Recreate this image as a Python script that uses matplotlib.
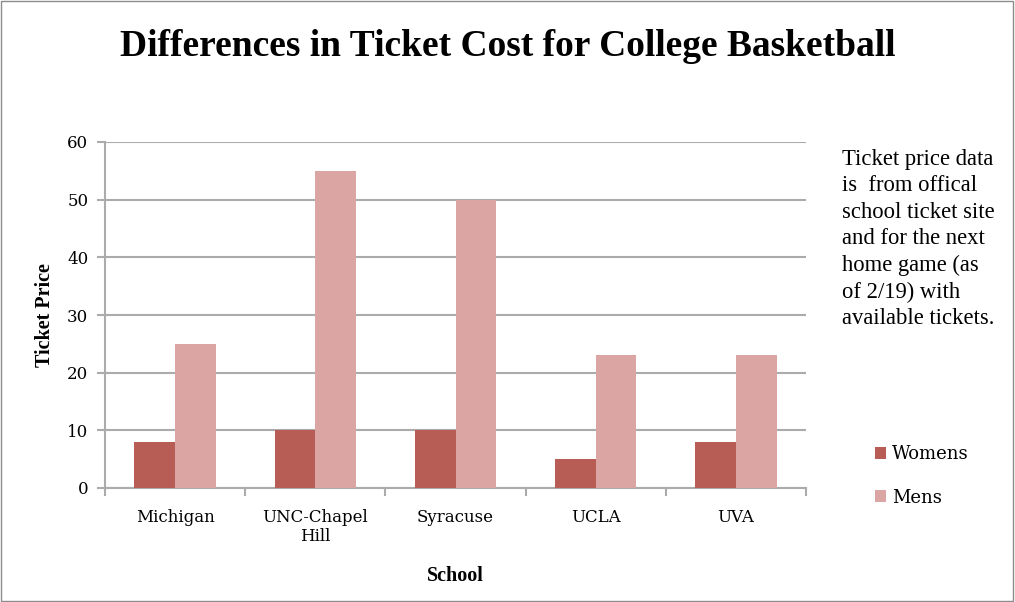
import numpy as np
import matplotlib.pyplot as plt
from matplotlib.patches import Rectangle

# data
schools = ['Michigan', 'UNC-Chapel\nHill', 'Syracuse', 'UCLA', 'UVA']
womens = [8, 10, 10, 5, 8]
mens = [25, 55, 50, 23, 23]
yticks = [0, 10, 20, 30, 40, 50, 60]

women_color = '#B85D56'
men_color = '#DBA5A4'
grid_color = '#ABABAB'

plt.rcParams['font.family'] = ['Liberation Serif', 'DejaVu Serif']
body_font = ['DejaVu Serif']

fig = plt.figure(figsize=(10.15, 6.02), dpi=100)
ax = fig.add_axes([105 / 1015, 1 - 488 / 602, 701 / 1015, 346 / 602])

x = np.arange(len(schools))
w = 0.29
ax.bar(x - w / 2, womens, w, color=women_color, label='Womens', zorder=3)
ax.bar(x + w / 2, mens, w, color=men_color, label='Mens', zorder=3)

ax.set_xlim(-0.5, len(schools) - 0.5)
ax.set_ylim(0, 60)
ax.set_yticks(yticks)
ax.set_yticklabels([str(v) for v in yticks], family=body_font, fontsize=12)
ax.yaxis.grid(True, color=grid_color, linewidth=1.5, zorder=0)

# x ticks at category boundaries, labels at centers
ax.set_xticks(np.arange(len(schools) + 1) - 0.5)
ax.set_xticklabels([])
ax.set_xticks(x, minor=True)
ax.set_xticklabels(schools, minor=True, family=body_font, fontsize=12)
ax.tick_params(axis='x', which='minor', length=0, pad=15)
ax.tick_params(axis='x', which='major', length=6, width=1.5, color=grid_color)
ax.tick_params(axis='y', length=6, width=1.5, color=grid_color, pad=6)

for s in ['top', 'right']:
    ax.spines[s].set_visible(False)
for s in ['left', 'bottom']:
    ax.spines[s].set_color(grid_color)
    ax.spines[s].set_linewidth(1.5)

ax.set_xlabel('School', fontsize=14.5, fontweight='bold', labelpad=15)
ax.set_ylabel('Ticket Price', fontsize=14.5, fontweight='bold', labelpad=9)

fig.text(0.5 * (120 + 895) / 1015, 1 - 47 / 602,
         'Differences in Ticket Cost for College Basketball',
         ha='center', va='center', fontsize=27, fontweight='bold')

fig.text(842 / 1015, 1 - 149 / 602,
         'Ticket price data\nis  from offical\nschool ticket site\nand for the next\nhome game (as\nof 2/19) with\navailable tickets.',
         ha='left', va='top', fontsize=16.3, linespacing=1.34)

leg = fig.legend(loc='upper left', bbox_to_anchor=(859 / 1015, 1 - 429 / 602),
                 frameon=False, prop={'family': body_font, 'size': 13},
                 handlelength=0.6, handleheight=0.6,
                 handletextpad=0.35, labelspacing=1.4)

# figure border
fig.patches.append(Rectangle((0.001, 0.001), 0.997, 0.997, transform=fig.transFigure,
                             fill=False, edgecolor='#8C8C8C', linewidth=1))

fig.savefig('out.png', dpi=100)
